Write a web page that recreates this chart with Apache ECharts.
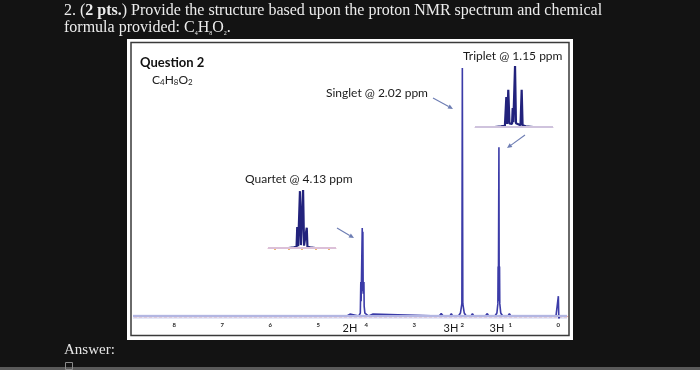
<!DOCTYPE html>
<html><head><meta charset="utf-8">
<script src="https://cdn.jsdelivr.net/npm/echarts@6/dist/echarts.min.js"></script>
<style>html,body{margin:0;padding:0;background:#131313;}#c{width:700px;height:370px;}</style>
</head><body><div id="c"></div>
<script>
// ---- data (ppm, relative intensity) ----
const ppmTicks = [0, 1, 2, 3, 4, 5, 6, 7, 8];
const mainSpectrum = [
  [8.86, 0], [4.40, 0], [4.34, 0.8], [4.30, 0], [4.16, 0], [4.125, 1.2], [4.115, 13.7], [4.108, 6],
  [4.085, 35.5], [4.08, 10], [4.072, 34], [4.065, 9], [4.05, 13.7], [4.045, 4], [4.03, 1.2],
  [3.95, 0], [3.86, 0.8], [3.82, 0], [2.48, 0], [2.44, 1], [2.40, 0], [2.26, 0], [2.23, 1], [2.20, 0],
  [2.08, 0], [2.04, 1.2], [2.01, 5], [2.0, 100], [1.99, 5], [1.96, 1.2], [1.92, 0],
  [1.82, 0], [1.79, 1], [1.76, 0], [1.52, 0], [1.48, 1], [1.45, 0],
  [1.32, 0], [1.28, 1.2], [1.26, 5], [1.255, 20], [1.25, 6], [1.238, 68], [1.232, 6],
  [1.225, 20], [1.22, 5], [1.2, 1.2], [1.16, 0], [1.05, 0], [1.02, 1], [0.99, 0],
  [0.05, 0], [0.01, 0], [0.0, 8], [-0.01, -1], [-0.03, 0], [-0.18, 0]
];
const quartetInset = [
  [4.35, 0], [4.20, 0], [4.16, 1], [4.14, 2], [4.135, 36], [4.128, 3], [4.115, 98], [4.108, 5],
  [4.092, 100], [4.085, 4], [4.065, 35], [4.06, 2], [4.04, 1], [4.0, 0], [3.85, 0]
];
const tripletInset = [
  [1.45, 0], [1.30, 0], [1.25, 1], [1.22, 2], [1.209, 49], [1.203, 5], [1.194, 61], [1.185, 6],
  [1.165, 5], [1.160, 31], [1.155, 8], [1.142, 100], [1.135, 6], [1.10, 3], [1.091, 61],
  [1.084, 3], [1.06, 1], [1.0, 0], [0.85, 0]
];
const quartetInsetTicks = [3.9, 4.0, 4.1, 4.2, 4.3];
const integrationLabels = ['2H', '3H', '3H'];

// ---- drawing helpers ----
function arrow(x1, y1, x2, y2, color) {
  const dx = x2 - x1, dy = y2 - y1, L = Math.hypot(dx, dy);
  const ux = dx / L, uy = dy / L, hl = 5, hw = 2.3;
  const bx = x2 - ux * hl, by = y2 - uy * hl;
  return [
    { type: 'line', shape: { x1: x1, y1: y1, x2: bx, y2: by }, style: { stroke: color, lineWidth: 1.1 } },
    { type: 'polygon', shape: { points: [[x2, y2], [bx - uy * hw, by + ux * hw], [bx + uy * hw, by - ux * hw]] }, style: { fill: color } }
  ];
}
function txt(x, y, text, font, fill, extra) {
  return { type: 'text', x: x, y: y, style: Object.assign({ text: text, font: font, fill: fill, verticalAlign: 'middle' }, extra || {}) };
}
function baseline(color, width) {
  return { silent: true, symbol: ['none', 'none'], label: { show: false }, z: 5,
    lineStyle: { color: color, width: width, type: 'solid' }, data: [{ yAxis: 0 }] };
}
const serif = '"Liberation Serif", "DejaVu Serif", serif';
const sans = 'Lato, "Open Sans", sans-serif';
const arrowColor = '#6d7db3';

const chart = echarts.init(document.getElementById('c'), null, { renderer: 'canvas' });
const option = {
  backgroundColor: '#131313',
  animation: false,
  grid: [
    { left: 133, top: 68, width: 434, height: 252 },
    { left: 268, top: 190, width: 68, height: 58 },
    { left: 475, top: 66, width: 78, height: 61 }
  ],
  xAxis: [
    { gridIndex: 0, type: 'value', min: -0.18, max: 8.86, inverse: true,
      axisLine: { lineStyle: { color: '#dc5c5c', width: 1.3, type: [3, 2] } },
      axisTick: { show: false }, splitLine: { show: false },
      axisLabel: { customValues: ppmTicks, fontSize: 6, fontWeight: 'bold', color: '#2a2a2a', margin: 2, fontFamily: sans } },
    { gridIndex: 1, type: 'value', min: 3.85, max: 4.35, inverse: true,
      axisLine: { lineStyle: { color: '#ebbfd0', width: 1.2 } },
      axisTick: { customValues: quartetInsetTicks, length: 2, lineStyle: { color: '#e89a40', width: 1.5 } },
      axisLabel: { show: false }, splitLine: { show: false } },
    { gridIndex: 2, type: 'value', min: 0.85, max: 1.45, inverse: true,
      axisLine: { lineStyle: { color: '#d9c3d8', width: 1.2 } },
      axisTick: { show: false }, axisLabel: { show: false }, splitLine: { show: false } }
  ],
  yAxis: [
    { gridIndex: 0, type: 'value', min: -1.6, max: 100, show: false },
    { gridIndex: 1, type: 'value', min: 0, max: 100, show: false },
    { gridIndex: 2, type: 'value', min: 0, max: 100, show: false }
  ],
  series: [
    { type: 'line', xAxisIndex: 0, yAxisIndex: 0, data: mainSpectrum, showSymbol: false,
      lineStyle: { width: 1.6, color: '#3b3ba8' },
      markLine: baseline('#b3b6e2', 2.2),
      markArea: { silent: true, itemStyle: { color: 'rgba(170,175,230,0.3)' }, data: [[{ yAxis: -1.2 }, { yAxis: 0.6 }]] } },
    { type: 'line', xAxisIndex: 1, yAxisIndex: 1, data: quartetInset, showSymbol: false,
      lineStyle: { width: 2.2, color: '#22227c' },
      markLine: baseline('#dcc0d8', 2.2) },
    { type: 'line', xAxisIndex: 2, yAxisIndex: 2, data: tripletInset, showSymbol: false,
      lineStyle: { width: 2.2, color: '#22227c' },
      markLine: baseline('#cfc3dd', 2.2) }
  ],
  graphic: [].concat(
    [
      { type: 'rect', z: -10, shape: { x: 127, y: 39, width: 446, height: 301 }, style: { fill: '#ffffff' } },
      { type: 'rect', z: -9, shape: { x: 131, y: 42.5, width: 438, height: 293 }, style: { fill: '#ffffff', stroke: '#3a3a3a', lineWidth: 1.5 } },
      { type: 'rect', shape: { x: 0, y: 367, width: 700, height: 3 }, style: { fill: '#5a5a5a' } },
      { type: 'rect', shape: { x: 65.5, y: 362.5, width: 7, height: 7 }, style: { fill: 'none', stroke: '#8a8a8a', lineWidth: 1 } },
      txt(64, 11, '2. ({b|2 pts.}) Provide the structure based upon the proton NMR spectrum and chemical', '16px ' + serif, '#ececec',
        { rich: { b: { font: 'bold 16px ' + serif, fill: '#ececec' } } }),
      txt(64, 28, 'formula provided: C{s|4}H{s|8}O{s|2}.', '16px ' + serif, '#ececec',
        { rich: { s: { font: '6px ' + serif, fill: '#ececec', verticalAlign: 'bottom' } } }),
      txt(64, 350, 'Answer:', '15px ' + serif, '#e6e6e6'),
      txt(140, 63, 'Question 2', 'bold 13px ' + sans, '#111'),
      txt(152, 80, 'C{s|4}H{s|8}O{s|2}', '12px ' + sans, '#222',
        { rich: { s: { font: '8px ' + sans, fill: '#222', verticalAlign: 'bottom' } } }),
      txt(326, 93, 'Singlet @ 2.02 ppm', '12px ' + sans, '#1a1a1a'),
      txt(245, 179, 'Quartet @ 4.13 ppm', '12px ' + sans, '#1a1a1a'),
      txt(463, 56, 'Triplet @ 1.15 ppm', '12px ' + sans, '#1a1a1a'),
      txt(350, 328, integrationLabels[0], '11px ' + sans, '#1a1a1a', { align: 'center' }),
      txt(451, 328, integrationLabels[1], '11px ' + sans, '#1a1a1a', { align: 'center' }),
      txt(497, 328, integrationLabels[2], '11px ' + sans, '#1a1a1a', { align: 'center' })
    ],
    arrow(337, 228, 354, 238, arrowColor),
    arrow(433, 98, 453, 109, arrowColor),
    arrow(525, 135, 507, 148, arrowColor)
  )
};
chart.setOption(option);
</script></body></html>
